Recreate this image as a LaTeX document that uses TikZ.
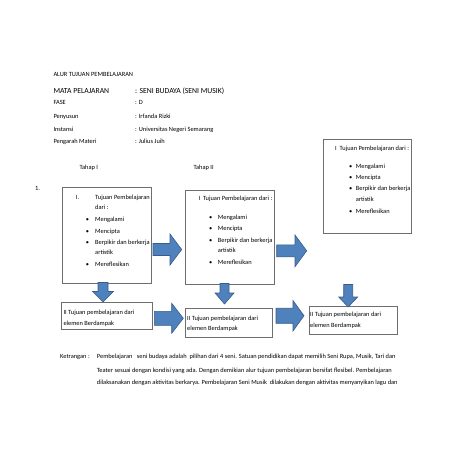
\documentclass[tikz,border=0pt]{standalone}
\usepackage{fontspec}
\setmainfont{Carlito}
\definecolor{arrowblue}{RGB}{79,129,189}
\definecolor{arrowedge}{RGB}{56,93,138}
\definecolor{boxedge}{RGB}{110,110,110}
\newcommand\rarrow[7]{% name x0 xb x1 ytop ybot shaft-half
  \draw[arr] ({#2},{(#5+#6)/2-#7}) -- ({#3},{(#5+#6)/2-#7}) -- ({#3},{#5}) -- ({#4},{(#5+#6)/2}) -- ({#3},{#6}) -- ({#3},{(#5+#6)/2+#7}) -- ({#2},{(#5+#6)/2+#7}) -- cycle;
  \coordinate (#1) at ({#4},{(#5+#6)/2});}
\newcommand\darrow[7]{% name xc shaft-half head-half y0 yb y1
  \draw[arr] ({#2-#3},{#5}) -- ({#2+#3},{#5}) -- ({#2+#3},{#6}) -- ({#2+#4},{#6}) -- ({#2},{#7}) -- ({#2-#4},{#6}) -- ({#2-#3},{#6}) -- cycle;
  \coordinate (#1) at ({#2},{#7});}
\begin{document}
\begin{tikzpicture}[x=1bp,y=-1bp,
  txt/.style={anchor=base west, inner sep=0pt, text=black, font=\fontsize{6.4bp}{7.5bp}\selectfont},
  big/.style={anchor=base west, inner sep=0pt, text=black, font=\fontsize{7.7bp}{9bp}\selectfont},
  box/.style={draw=boxedge, line width=0.6bp, fill=white, inner sep=0pt, anchor=north west},
  arr/.style={fill=arrowblue, draw=arrowedge, line width=0.6bp, line join=miter}]
\useasboundingbox (0,0) rectangle (453,453);
\fill[white] (0,0) rectangle (453,453);

% header
\node[txt] (h0) at (53.3,77) {ALUR TUJUAN PEMBELAJARAN};
\node[big] (h1) at (53.3,93.5) {MATA PELAJARAN};
\node[big] (h1v) at (135,93.5) {: SENI BUDAYA (SENI MUSIK)};
\node[txt] (h2) at (53.3,105) {FASE};
\node[txt] (h2v) at (135,105) {: D};
\node[txt] (h3) at (53.3,119) {Penyusun};
\node[txt] (h3v) at (135,119) {: Irfanda Rizki};
\node[txt] (h4) at (53.3,132) {Instansi};
\node[txt] (h4v) at (135,132) {: Universitas Negeri Semarang};
\node[txt] (h5) at (53.3,144) {Pengarah Materi};
\node[txt] (h5v) at (135,144) {: Julius Juih};
\node[txt] (t1) at (79.3,169.5) {Tahap I};
\node[txt] (t2) at (193.3,169.5) {Tahap II};
\node[txt] (num) at (35,190.5) {1.};

% boxes
\node[box, minimum width=89.5bp, minimum height=95bp] (b1) at (61.5,187.5) {};
\node[box, minimum width=89bp, minimum height=93.5bp] (b2) at (185,190) {};
\node[box, minimum width=88.3bp, minimum height=94bp] (b3) at (322.7,139.3) {};
\node[box, minimum width=90.7bp, minimum height=26.2bp] (c1) at (61,302.3) {};
\node[box, minimum width=87bp, minimum height=28.4bp] (c2) at (185,308.3) {};
\node[box, minimum width=88.5bp, minimum height=27.8bp] (c3) at (308.5,305.7) {};

% box 1 text
\node[txt] (b1n) at (75.7,199.5) {I.};
\node[txt] (b1t) at (95,199.5) {Tujuan Pembelajaran};
\node[txt] (b1t2) at (95,210) {dari :};
\foreach \y/\s [count=\i] in {221.5/Mengalami,233/Mencipta,244/Berpikir dan berkerja,266/Mereflesikan}{
  \node[txt] (b1b\i) at (85.7,\y) {\textbullet};
  \node[txt] (b1i\i) at (95,\y) {\s};}
\node[txt] (b1a) at (95,254.5) {artistik};

% box 2 text
\node[txt] (b2t) at (198.3,200.8) {I\ \ Tujuan Pembelajaran dari :};
\foreach \y/\s [count=\i] in {219.5/Mengalami,230.8/Mencipta,242/Berpikir dan berkerja,264/Mereflesikan}{
  \node[txt] (b2b\i) at (209,\y) {\textbullet};
  \node[txt] (b2i\i) at (217.7,\y) {\s};}
\node[txt] (b2a) at (217.7,252) {artistik};

% box 3 text
\node[txt] (b3t) at (335,151) {I\ \ Tujuan Pembelajaran dari :};
\foreach \y/\s [count=\i] in {168.5/Mengalami,179.5/Mencipta,191/Berpikir dan berkerja,213.5/Mereflesikan}{
  \node[txt] (b3b\i) at (349,\y) {\textbullet};
  \node[txt] (b3i\i) at (355.7,\y) {\s};}
\node[txt] (b3a) at (355.7,202) {artistik};

% lower boxes text
\node[txt] (c1t) at (63.3,314.5) {II Tujuan pembelajaran dari};
\node[txt] (c1t2) at (63.3,325) {elemen Berdampak};
\node[txt] (c2t) at (187,320) {II Tujuan pembelajaran dari};
\node[txt] (c2t2) at (187,330.5) {elemen Berdampak};
\node[txt] (c3t) at (310,316.5) {II Tujuan pembelajaran dari};
\node[txt] (c3t2) at (310,327.5) {elemen Berdampak};

% arrows
\rarrow{r1}{153}{170}{181.7}{234}{265}{6}
\rarrow{r2}{276.7}{295}{306.7}{235}{266.7}{6}
\rarrow{r3}{154.3}{171.7}{183.3}{303.3}{333.3}{7}
\rarrow{r4}{276}{293}{304}{300.5}{331}{7.5}
\darrow{d1}{103}{5}{10.5}{282.5}{291.5}{302}
\darrow{d2}{224.5}{4.5}{9.5}{283.5}{293}{304}
\darrow{d3}{348.2}{4.5}{9.5}{284.5}{297}{307}

% note
\node[txt] (k0) at (60,358) {Ketrangan :};
\node[txt] (k1) at (96.7,358) {Pembelajaran\ \ \ seni budaya adalah\ \ pilihan dari 4 seni. Satuan pendidikan dapat memilih Seni Rupa, Musik, Tari dan};
\node[txt] (k2) at (96.7,372) {Teater sesuai dengan kondisi yang ada. Dengan demikian alur tujuan pembelajaran bersifat flesibel. Pembelajaran};
\node[txt] (k3) at (96.7,384.5) {dilaksanakan dengan aktivitas berkarya. Pembelajaran Seni Musik\ \ dilakukan dengan aktivitas menyanyikan lagu dan};
\end{tikzpicture}
\end{document}
